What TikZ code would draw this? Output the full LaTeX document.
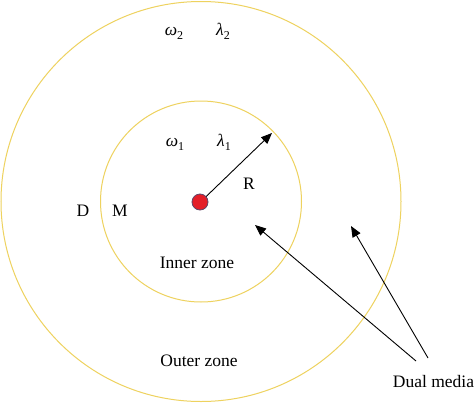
\documentclass[tikz,border=0pt]{standalone}
\usepackage{fontspec}
\setmainfont{Liberation Serif}
\usetikzlibrary{arrows.meta}
\definecolor{zoneyellow}{RGB}{238,210,95}
\definecolor{dotred}{RGB}{228,30,40}
\definecolor{dotedge}{RGB}{95,70,105}
\newcommand{\greeksub}[2]{\textit{#1}\raisebox{-0.28em}{\fontsize{12}{12}\selectfont #2}}
\tikzset{
  zone/.style={draw=zoneyellow, line width=1pt},
  lbl/.style={inner sep=0pt, anchor=base, font=\fontsize{17.5}{20}\selectfont},
  pointer/.style={draw=black, line width=0.9pt, -{Triangle[length=11pt,width=9pt]}}
}
\begin{document}
\begin{tikzpicture}[x=1pt,y=-1pt]
\useasboundingbox (0,0) rectangle (474,402);
\fill[white] (0,0) rectangle (474,402);
\coordinate (c) at (201,201.5);
\draw[zone] (c) circle[radius=200];
\draw[zone] (c) circle[radius=100.5];
\coordinate (rim) at (272,133);
\draw[pointer] (c) -- (rim);
\node[circle, fill=dotred, draw=dotedge, line width=0.8pt, minimum size=16pt, inner sep=0pt] (dot) at (200,202) {};
\node[lbl] (w1) at (175,146) {\greeksub{ω}{1}};
\node[lbl] (l1) at (224,146) {\greeksub{λ}{1}};
\node[lbl] (w2) at (174,35) {\greeksub{ω}{2}};
\node[lbl] (l2) at (223,35) {\greeksub{λ}{2}};
\node[lbl] (R) at (249,189) {R};
\node[lbl] (D) at (83,216) {D};
\node[lbl] (M) at (120,216) {M};
\node[lbl] (inner) at (197,268) {Inner zone};
\node[lbl] (outer) at (199,366) {Outer zone};
\node[lbl] (dual) at (433.5,387) {Dual media};
\coordinate (t1) at (416,361);
\coordinate (t2) at (428,358);
\coordinate (h1) at (255,225);
\coordinate (h2) at (351,226);
\draw[pointer] (t1) -- (h1);
\draw[pointer] (t2) -- (h2);
\end{tikzpicture}
\end{document}
